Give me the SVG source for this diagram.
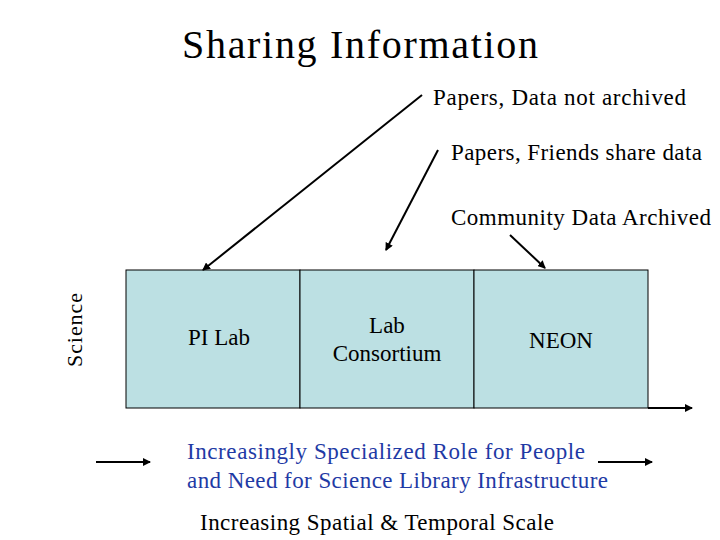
<svg xmlns="http://www.w3.org/2000/svg" width="720" height="540" viewBox="0 0 720 540" font-family="'Liberation Serif','Times New Roman',serif">
<style>
.b{fill:#bce0e3;stroke:#000;stroke-width:1}
.c{stroke:#000;stroke-width:2;fill:none;marker-end:url(#a)}
.u{fill:#1f3aa5}
</style>
<defs><marker id="a" markerWidth="8" markerHeight="8" refX="7" refY="4" orient="auto" markerUnits="userSpaceOnUse"><path d="M0,0L8,4L0,8z" fill="#000"/></marker></defs>
<rect width="720" height="540" fill="#fff"/>
<g font-family="'Liberation Serif','Times New Roman',serif">
<text x="360" y="58" font-size="40" text-anchor="middle" textLength="356">Sharing Information</text>
<text x="433" y="105" font-size="23" textLength="253">Papers, Data not  archived</text>
<text x="451" y="160" font-size="23" textLength="251">Papers, Friends share data</text>
<text x="451" y="225" font-size="23" textLength="260">Community Data Archived</text>
<text transform="translate(82,330) rotate(-90)" font-size="22" text-anchor="middle" textLength="74">Science</text>
<g id="pilab"><rect class="b" x="126" y="270" width="174" height="138"/><text x="219" y="345" font-size="23" text-anchor="middle">PI Lab</text></g>
<g id="consortium"><rect class="b" x="300" y="270" width="174" height="138"/><text x="387" y="333" font-size="23" text-anchor="middle">Lab</text><text x="387" y="361" font-size="23" text-anchor="middle">Consortium</text></g>
<g id="neon"><rect class="b" x="474" y="270" width="174" height="138"/><text x="561" y="348" font-size="23" text-anchor="middle">NEON</text></g>
<text class="u" x="187" y="459" font-size="23" textLength="398">Increasingly  Specialized Role for People</text>
<text class="u" x="187" y="488" font-size="23" textLength="421">and Need for Science Library Infrastructure</text>
<text x="200" y="530" font-size="23" textLength="354">Increasing Spatial &amp; Temporal Scale</text>
</g>
<g id="connectors">
<line class="c" x1="422" y1="95" x2="203" y2="270"/>
<line class="c" x1="438" y1="150" x2="386" y2="250"/>
<line class="c" x1="510" y1="235" x2="545" y2="268"/>
<line class="c" x1="648" y1="408" x2="692" y2="408"/>
<line class="c" x1="96" y1="462" x2="150" y2="462"/>
<line class="c" x1="598" y1="462" x2="652" y2="462"/>
</g>
</svg>
